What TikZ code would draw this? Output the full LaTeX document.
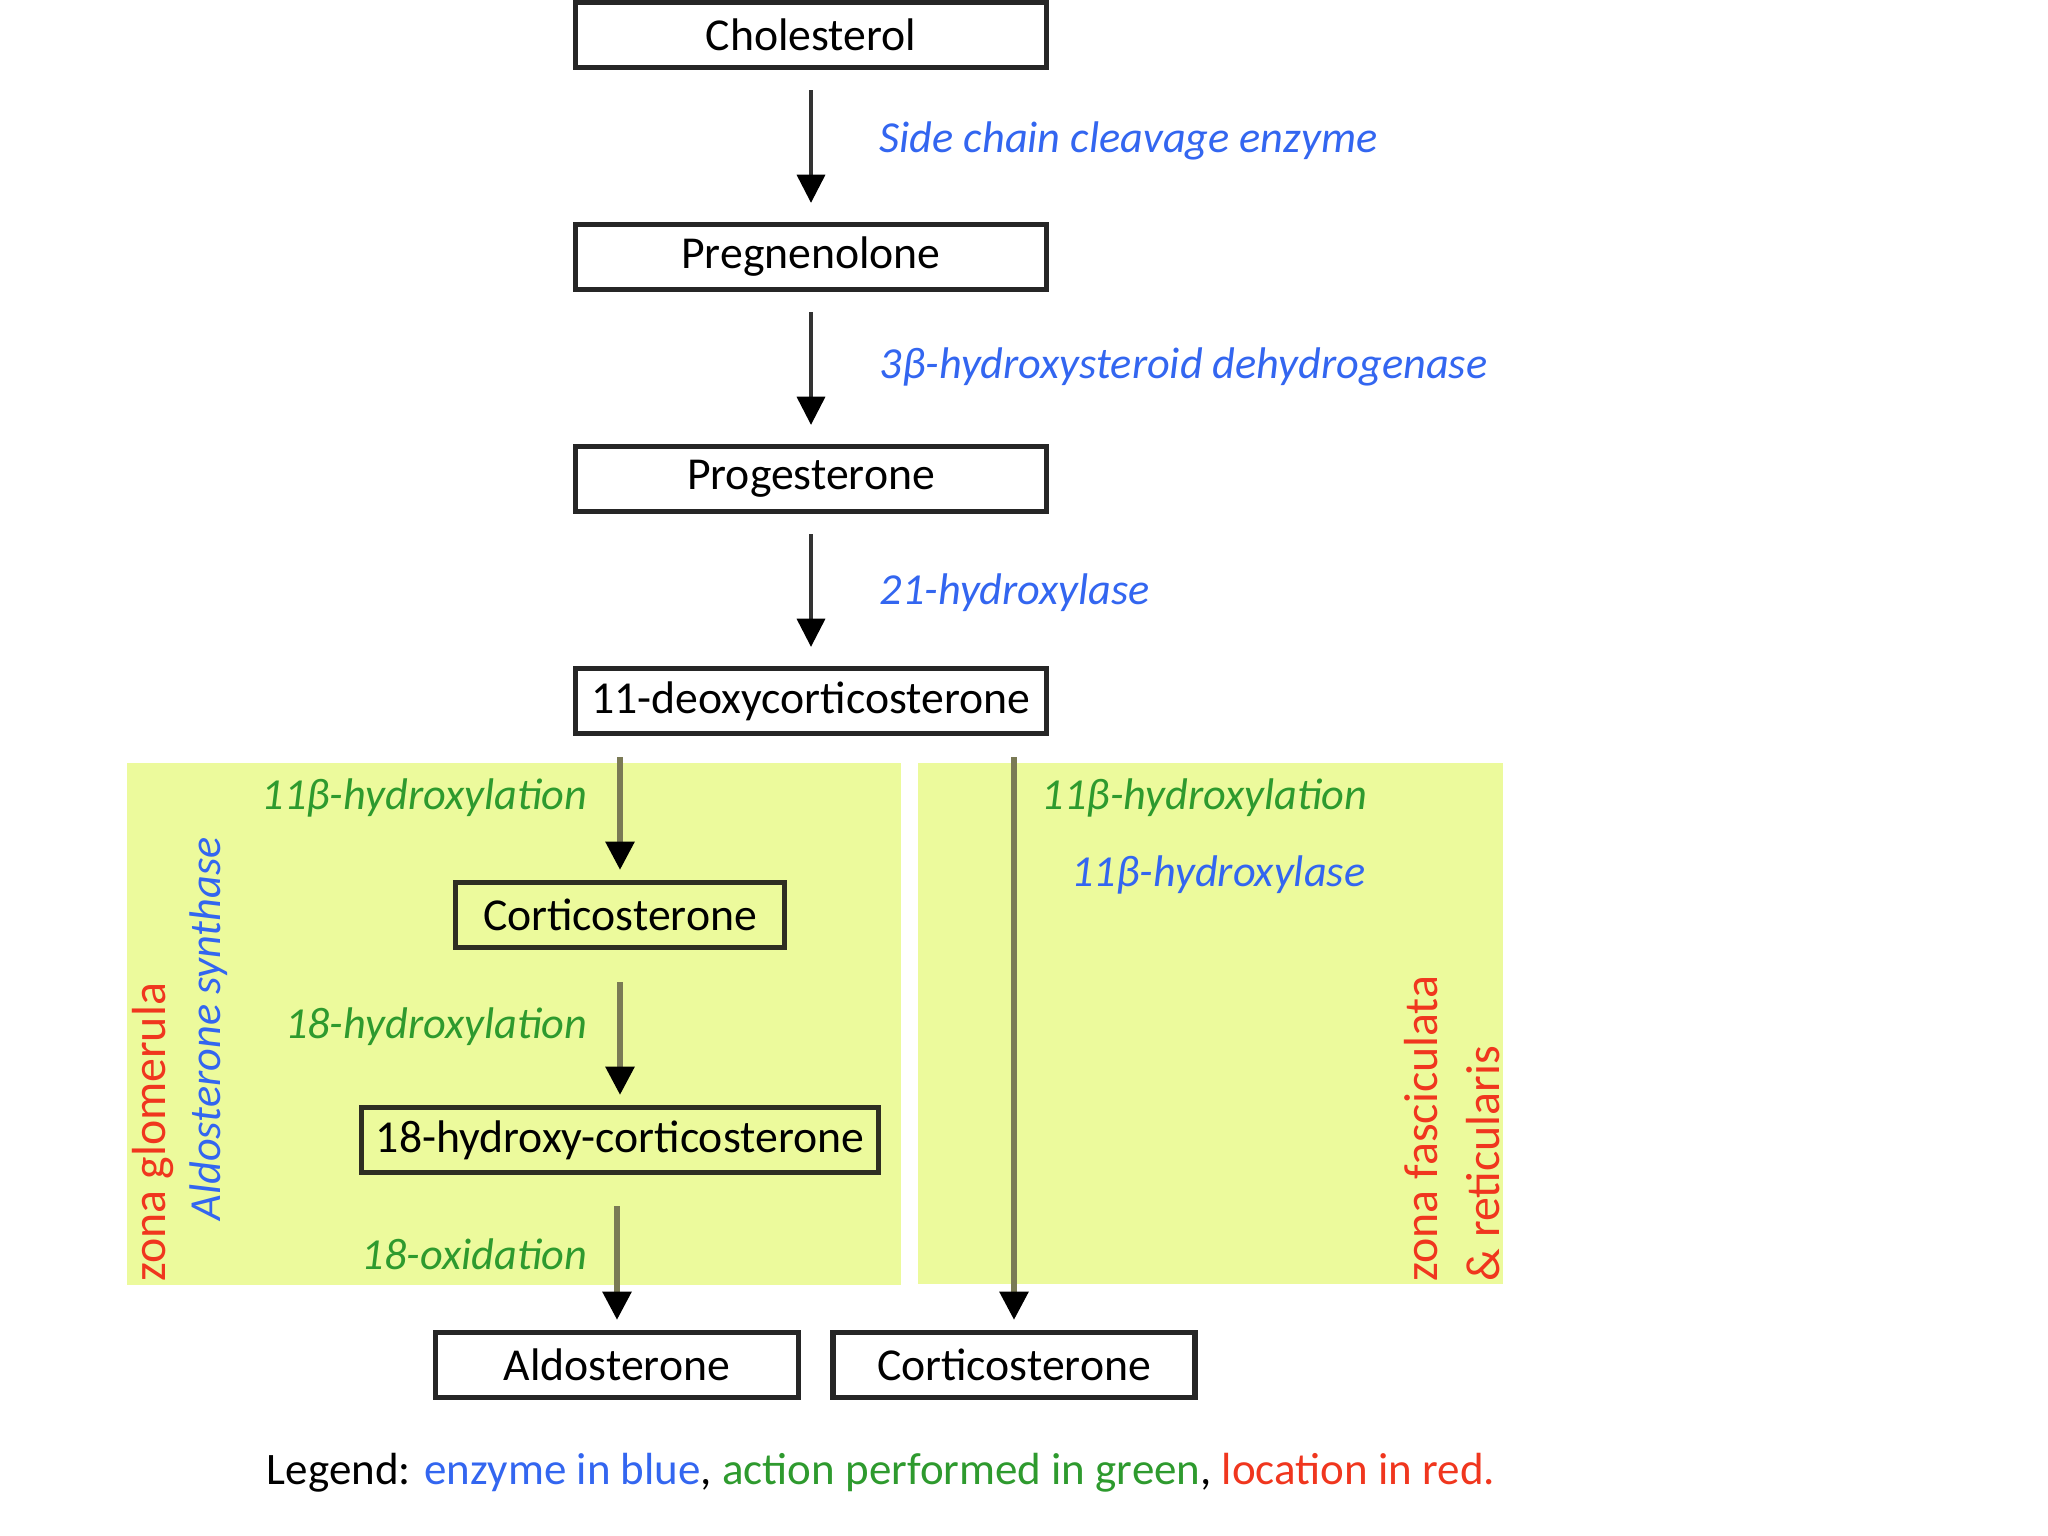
\documentclass[tikz,border=0pt]{standalone}
\usepackage{fontspec}
\setmainfont{Carlito}
\usepackage{tikz}
\usetikzlibrary{arrows.meta,positioning}
\definecolor{enzblue}{HTML}{3366F0}
\definecolor{actgreen}{HTML}{2E9A2E}
\definecolor{locred}{HTML}{F0361E}
\definecolor{zonebg}{HTML}{ECFA9C}
\definecolor{stemgray}{HTML}{7A7A55}
\definecolor{boxedge}{HTML}{2E2E22}

\begin{document}
\begin{tikzpicture}[x=.01cm,y=-.01cm,font=\fontsize{13}{16}\selectfont,
  chem/.style={draw=black!85,line width=1.5pt,minimum width=#1,minimum height=.65cm,inner sep=0pt,fill=white},
  zchem/.style={chem=#1,draw=boxedge,fill=zonebg},
  mainarrow/.style={draw=black!80,line width=.9pt,-{Triangle[length=8pt,width=8pt,color=black]},shorten <=.2cm,shorten >=.19cm},
  zonearrow/.style={draw=stemgray,line width=1.5pt,-{Triangle[length=8pt,width=8pt,color=black]},shorten <=.21cm,shorten >=.1cm},
  enz/.style={text=enzblue,inner sep=0pt,font=\fontsize{12.6}{15}\selectfont\itshape},
  act/.style={text=actgreen,inner sep=0pt,font=\fontsize{12.6}{15}\selectfont\itshape},
  loc/.style={text=locred,inner sep=0pt,rotate=90,font=\fontsize{13.6}{17.5}\selectfont}]
\useasboundingbox (0,0) rectangle (2048,1536);
% zones
\fill[zonebg] (127,763) rectangle (901,1285);
\fill[zonebg] (918,763) rectangle (1503,1284);
% main chain
\node[chem=4.71cm] (chol) at (811,35) {Cholesterol};
\node[chem=4.71cm] (preg) at (811,257) {Pregnenolone};
\node[chem=4.71cm] (prog) at (811,479) {Progesterone};
\node[chem=4.71cm] (doc) at (811,701) {11-deoxycorticosterone};
\draw[mainarrow] (chol) -- (preg);
\draw[mainarrow] (preg) -- (prog);
\draw[mainarrow] (prog) -- (doc);
\node[enz,anchor=west] (scc) at (879,141) {Side chain cleavage enzyme};
\node[enz,anchor=west] (hsd) at (879,367) {3β-hydroxysteroid dehydrogenase};
\node[enz,anchor=west] (cyp21) at (879,593) {21-hydroxylase};
% zona glomerula
\node[zchem=3.29cm] (cortg) at (620,915) {Corticosterone};
\node[zchem=5.17cm] (ohcort) at (620,1140) {18-hydroxy-corticosterone};
\node[chem=3.63cm] (aldo) at (617,1365) {Aldosterone};
\draw[zonearrow] (doc.south -| cortg.north) -- (cortg.north);
\draw[zonearrow,shorten <=.32cm] (cortg) -- (ohcort);
\draw[zonearrow,shorten <=.31cm] (ohcort.south -| aldo.north) -- (aldo.north);
\node[act,anchor=east] (hydg) at (588,798) {11β-hydroxylation};
\node[act,anchor=east] (hyd18) at (588,1027) {18-hydroxylation};
\node[act,anchor=east] (ox18) at (588,1254) {18-oxidation};
\node[loc,anchor=west] (zglom) at (153,1282) {zona glomerula};
\node[enz,rotate=90,anchor=west] (asyn) at (209,1221) {Aldosterone synthase};
% zona fasciculata
\node[chem=3.62cm] (cortf) at (1014,1365) {Corticosterone};
\draw[zonearrow] (doc.south -| cortf.north) -- (cortf.north);
\node[act,anchor=west] (hydf) at (1041,798) {11β-hydroxylation};
\node[enz,anchor=east] (cyp11) at (1366,875) {11β-hydroxylase};
\node[loc,anchor=west,align=left] (zfasc) at (1452,1282) {zona fasciculata\\\& reticularis};
% legend
\node[font=\fontsize{12.8}{15}\selectfont] (legend) at (881,1473) {Legend: \textcolor{enzblue}{enzyme in blue}, \textcolor{actgreen}{action performed in green}, \textcolor{locred}{location in red.}};
\end{tikzpicture}
\end{document}
